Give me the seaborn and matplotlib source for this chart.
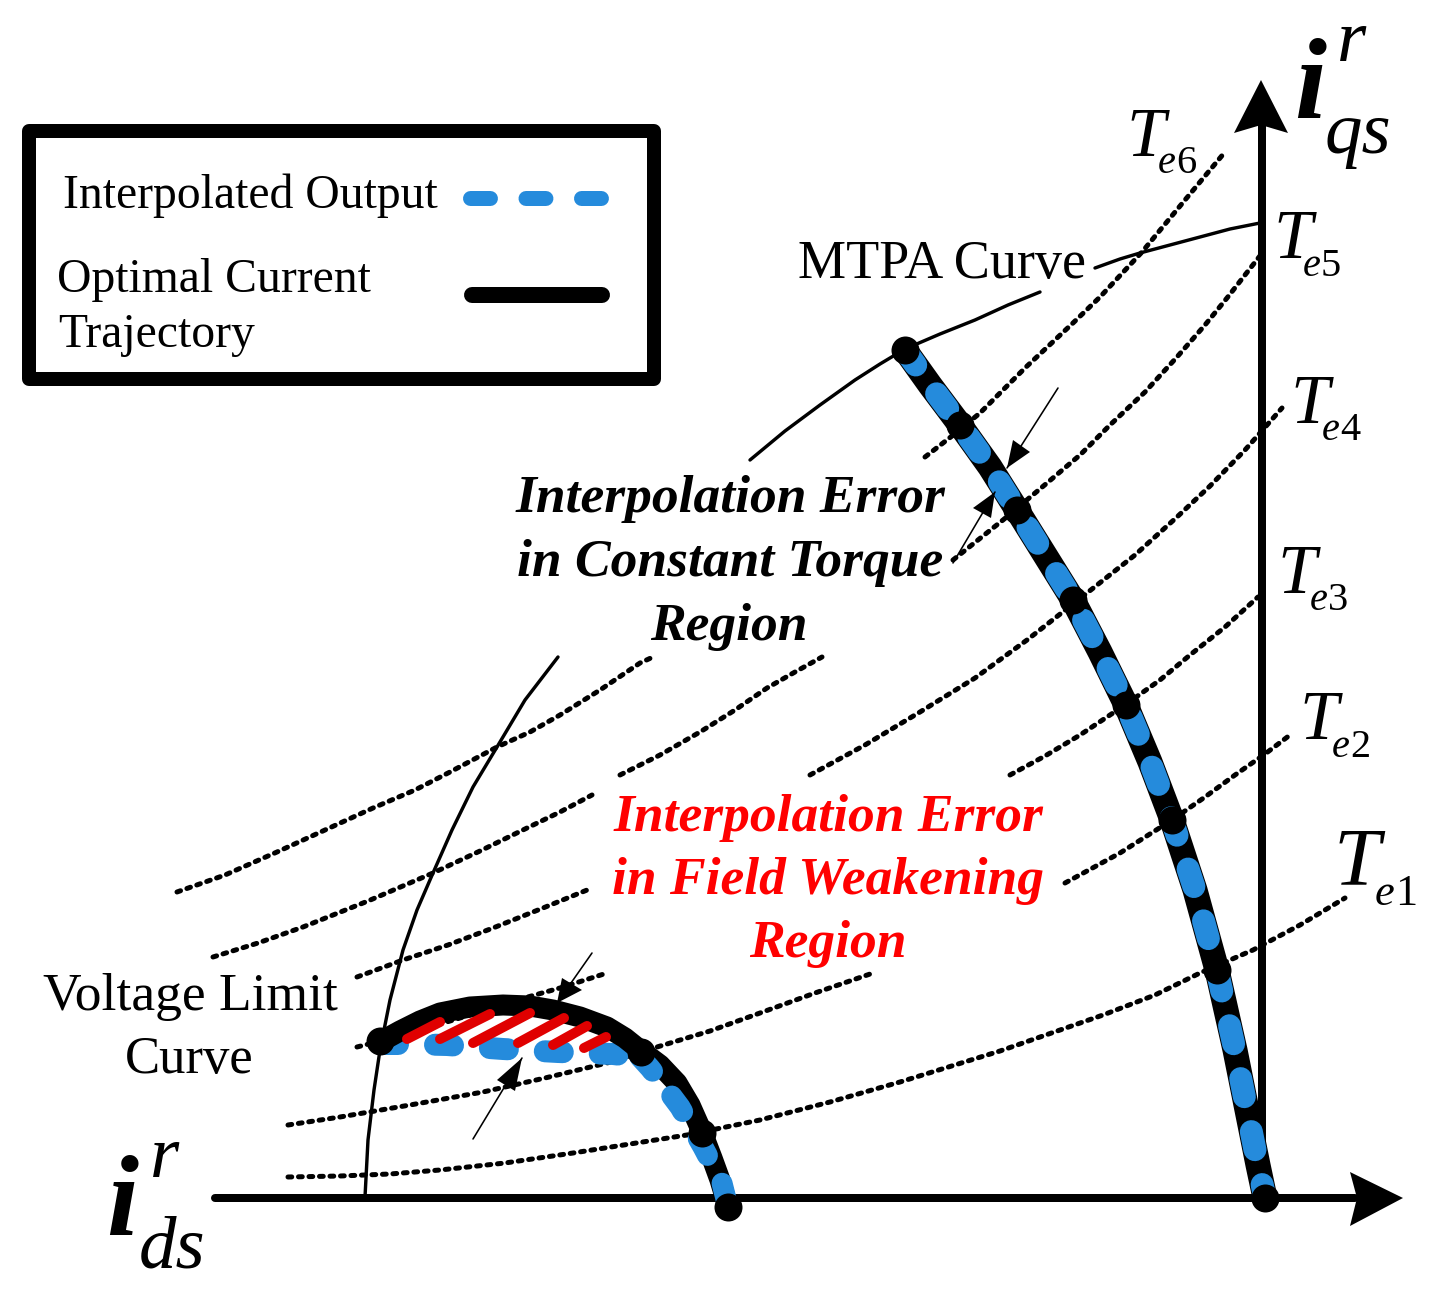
import matplotlib
matplotlib.use("Agg")
import matplotlib.pyplot as plt
import seaborn as sns

W, H = 1431, 1308
PX = 72 / 100  # one pixel in points at dpi 100

# torque curves, pieces are broken where the text sits on them
te6_up_x = [925, 952, 980, 1025, 1073, 1100, 1142, 1185, 1225]
te6_up_y = [457, 436, 413, 368, 323, 297, 252, 200, 152]
te6_low_x = [177, 225, 277, 325, 373, 415, 450, 497, 530, 560, 600, 640, 653]
te6_low_y = [892, 875, 852, 830, 808, 790, 772, 747, 732, 715, 690, 663, 657]
te5_up_x = [953, 978, 1003, 1047, 1080, 1110, 1145, 1177, 1205, 1227, 1263]
te5_up_y = [560, 540, 520, 483, 455, 425, 392, 357, 325, 298, 252]
te5_low_x = [213, 258, 303, 368, 433, 480, 527, 560, 592]
te5_low_y = [957, 943, 927, 901, 873, 851, 828, 812, 795]
te5_mid_x = [620, 660, 700, 735, 767, 795, 822]
te5_mid_y = [775, 755, 732, 710, 688, 672, 657]
te4_up_x = [810, 865, 920, 975, 1027, 1087, 1135, 1177, 1210, 1245, 1282]
te4_up_y = [775, 745, 712, 678, 640, 593, 555, 517, 486, 450, 408]
te4_low_x = [357, 403, 448, 493, 543, 592]
te4_low_y = [977, 960, 945, 928, 908, 888]
te3_up_x = [1010, 1045, 1080, 1125, 1160, 1190, 1225, 1258]
te3_up_y = [775, 756, 735, 705, 680, 655, 627, 597]
te3_low_x = [357, 400, 440, 480, 517, 560, 607]
te3_low_y = [1047, 1036, 1024, 1012, 1000, 988, 973]
te2_up_x = [1065, 1120, 1172, 1205, 1235, 1265, 1290]
te2_up_y = [883, 853, 820, 797, 775, 754, 735]
te2_low_x = [288, 340, 410, 483, 545, 607, 657, 710, 760, 815, 873]
te2_low_y = [1125, 1117, 1105, 1092, 1078, 1063, 1047, 1031, 1013, 993, 973]
te1_x = [288, 340, 390, 440, 505, 573, 630, 687, 760, 830, 900, 1000, 1103, 1155, 1200, 1253, 1300, 1345]
te1_y = [1177, 1176, 1174, 1170, 1163, 1153, 1144, 1135, 1120, 1102, 1082, 1051, 1015, 995, 973, 950, 925, 898]
dotted_x = [te6_up_x, te6_low_x, te5_up_x, te5_low_x, te5_mid_x, te4_up_x, te4_low_x,
            te3_up_x, te3_low_x, te2_up_x, te2_low_x, te1_x]
dotted_y = [te6_up_y, te6_low_y, te5_up_y, te5_low_y, te5_mid_y, te4_up_y, te4_low_y,
            te3_up_y, te3_low_y, te2_up_y, te2_low_y, te1_y]

# thin curves
mtpa_up_x = [1095, 1120, 1140, 1170, 1200, 1230, 1260]
mtpa_up_y = [268, 259, 253, 245, 237, 229, 223]
mtpa_low_x = [750, 785, 820, 855, 880, 905, 940, 975, 1008, 1040]
mtpa_low_y = [460, 431, 405, 380, 364, 349, 334, 320, 305, 292]
vlim_x = [365, 368, 374, 380, 390, 403, 417, 433, 452, 473, 497, 525, 558]
vlim_y = [1197, 1140, 1090, 1050, 1000, 950, 910, 873, 830, 787, 747, 700, 657]

# optimal trajectory and interpolated output
traj_x = [905, 930, 960, 990, 1017, 1045, 1073, 1100, 1126, 1150, 1172, 1195, 1217, 1235, 1250, 1258, 1265]
traj_y = [350, 385, 425, 467, 510, 555, 600, 652, 705, 762, 820, 890, 970, 1050, 1125, 1165, 1198]
arc_x = [380, 400, 420, 440, 470, 503, 530, 553, 580, 607, 625, 640, 660, 677, 690, 702, 712, 720, 728]
arc_y = [1042, 1031, 1021, 1013, 1007, 1005, 1006, 1010, 1017, 1027, 1038, 1050, 1065, 1083, 1105, 1132, 1158, 1180, 1207]
flat_out_x = [380, 403, 447, 503, 558, 613, 630]
flat_out_y = [1044, 1044, 1045, 1049, 1052, 1054, 1056]
curve_out_x = [640, 650, 665, 680, 703, 722, 728]
curve_out_y = [1057, 1068, 1087, 1107, 1147, 1183, 1207]
dots_x = [905, 960, 1017, 1073, 1126, 1172, 1217, 1265, 380, 641, 702, 728]
dots_y = [350, 425, 510, 600, 705, 820, 970, 1198, 1041, 1052, 1133, 1207]

# error hatching
red_x = [(407, 440), (440, 490), (473, 530), (518, 564), (553, 587), (584, 606)]
red_y = [(1039, 1022), (1039, 1014), (1043, 1013), (1043, 1018), (1045, 1026), (1048, 1037)]

# small arrows: tail, head tip, two back corners
small_arrows = [
    ((592, 953), (557, 1003), (562, 978), (582, 990)),
    ((473, 1139), (522, 1058), (497, 1080), (515, 1091)),
    ((1058, 388), (1007, 468), (1013, 440), (1030, 452)),
    ((953, 563), (995, 492), (973, 508), (991, 518)),
]

sns.set_theme(style="white")
plt.rcParams['font.family'] = ['Liberation Serif', 'DejaVu Serif']

fig = plt.figure(figsize=(W / 100, H / 100), dpi=100)
ax = fig.add_axes([0, 0, 1, 1])
ax.set_xlim(0, W)
ax.set_ylim(H, 0)
ax.axis('off')


def draw(xs, ys, px, color='black', dash=None, z=2):
    line_kw = {}
    if dash is not None:
        line_kw['linestyle'] = (0, dash)
    sns.lineplot(x=xs, y=ys, sort=False, estimator=None, ax=ax, legend=False,
                 color=color, linewidth=px * PX, zorder=z, **line_kw)
    line = ax.get_lines()[-1]
    line.set_dash_capstyle('round')
    line.set_solid_capstyle('round')
    line.set_dash_joinstyle('round')
    line.set_solid_joinstyle('round')


for xs, ys in zip(dotted_x, dotted_y):
    draw(xs, ys, 5, dash=(0.75, 1.35))

draw(mtpa_up_x, mtpa_up_y, 3.4)
draw(mtpa_low_x, mtpa_low_y, 3.4)
draw(vlim_x, vlim_y, 3.4)

# axes
draw([215, 1355], [1198, 1198], 8, z=3)
draw([1262, 1262], [1198, 125], 8, z=3)
ax.fill([1403, 1350, 1357, 1350], [1198, 1172, 1198, 1226], color='black', lw=0, zorder=3)
ax.fill([1261, 1234, 1261, 1288], [80, 133, 125, 133], color='black', lw=0, zorder=3)

# trajectories, the flat part of the blue line lies under the black arc
draw(traj_x, traj_y, 25, z=4)
draw(arc_x, arc_y, 21, z=4)
draw(traj_x, traj_y, 23, color='#258bdc', dash=(0.8, 1.55), z=5)
draw(flat_out_x, flat_out_y, 22, color='#258bdc', dash=(0.82, 1.68), z=3.5)
draw(curve_out_x, curve_out_y, 21, color='#258bdc', dash=(0.9, 1.5), z=5)
sns.scatterplot(x=dots_x, y=dots_y, s=(28 * PX) ** 2, color='black', linewidth=0, ax=ax,
                legend=False, zorder=6)
for xs, ys in zip(red_x, red_y):
    draw(list(xs), list(ys), 10, color='#e00000', z=7)

for tail, tip, b1, b2 in small_arrows:
    draw([tail[0], tip[0]], [tail[1], tip[1]], 1.6, z=8)
    ax.fill([tip[0], b1[0], b2[0]], [tip[1], b1[1], b2[1]], color='black', lw=0, zorder=8)

# legend box
ax.add_patch(plt.Rectangle((28.5, 130.5), 625, 248, fill=False, ec='black', lw=14 * PX,
                           joinstyle='round', zorder=2))
draw([470, 603], [198, 198], 15, color='#258bdc', dash=(1.33, 2.37))
draw([472, 602], [295, 295], 16)

ax.text(63, 208, 'Interpolated Output', fontsize=34.3, color='black')
ax.text(57, 292, 'Optimal Current', fontsize=34.3, color='black')
ax.text(58, 347, 'Trajectory', fontsize=34.3, color='black')
ax.text(798, 278, 'MTPA Curve', fontsize=39, color='black')
ax.text(190, 1010, 'Voltage Limit', fontsize=38.5, color='black', ha='center')
ax.text(189, 1073, 'Curve', fontsize=38, color='black', ha='center')

bold_kw = dict(fontsize=38.5, fontweight='bold', fontstyle='italic', ha='center')
ax.text(730, 512, 'Interpolation Error', color='black', **bold_kw)
ax.text(730, 576, 'in Constant Torque', color='black', **bold_kw)
ax.text(729, 640, 'Region', color='black', **bold_kw)
ax.text(828, 831, 'Interpolation Error', color='#ff0000', **bold_kw)
ax.text(828, 894, 'in Field Weakening', color='#ff0000', **bold_kw)
ax.text(828, 957, 'Region', color='#ff0000', **bold_kw)

# torque labels
te_names = ['e6', 'e5', 'e4', 'e3', 'e2', 'e1']
te_t_x = [1126, 1273, 1290, 1277, 1299, 1334]
te_t_y = [156, 258, 423, 593, 739, 884]
te_sub_x = [1158, 1303, 1322, 1310, 1332, 1375]
te_sub_y = [173, 276, 440, 610, 757, 905]
te_t_size = [50, 50, 50, 50, 50, 60]
te_sub_size = [29, 29, 29, 29, 29, 32]
for i, name in enumerate(te_names):
    ax.text(te_t_x[i], te_t_y[i], 'T', fontsize=te_t_size[i], fontstyle='italic', color='black')
    ax.text(te_sub_x[i], te_sub_y[i], name[0], fontsize=te_sub_size[i], fontstyle='italic', color='black')
    ax.text(te_sub_x[i] + te_sub_size[i] * 0.62, te_sub_y[i], name[1], fontsize=te_sub_size[i], color='black')

# axis names
ax.text(1294, 118, 'i', fontsize=83, fontweight='bold', fontstyle='italic', color='black')
ax.text(1337, 61, 'r', fontsize=54, fontstyle='italic', color='black')
ax.text(1325, 153, 'qs', fontsize=54, fontstyle='italic', color='black')
ax.text(106, 1235, 'i', fontsize=83, fontweight='bold', fontstyle='italic', color='black')
ax.text(150, 1177, 'r', fontsize=54, fontstyle='italic', color='black')
ax.text(139, 1267, 'ds', fontsize=54, fontstyle='italic', color='black')

fig.savefig('out.png', dpi=100, facecolor='white')
